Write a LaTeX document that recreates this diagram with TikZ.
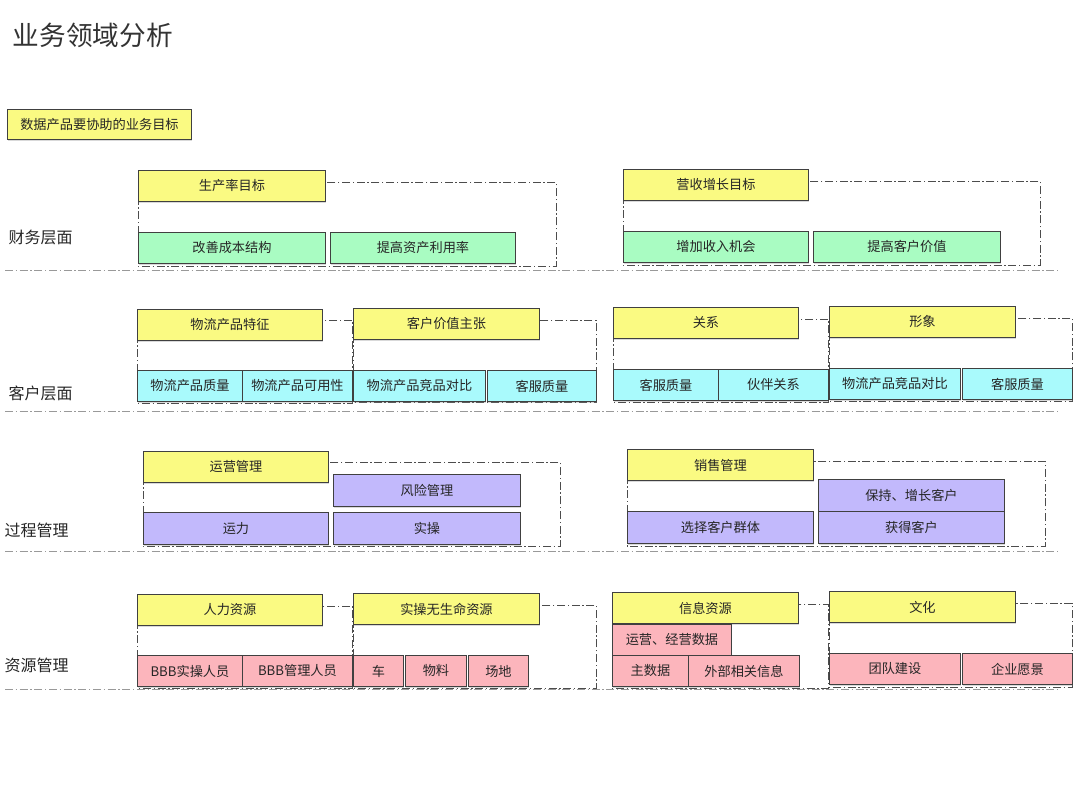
\documentclass[tikz,border=0pt]{standalone}
\usepackage{fontspec}
\setmainfont{Noto Sans CJK SC}
\usepackage{xcolor}
\usepackage{tikz}
\usetikzlibrary{shadows}
\definecolor{goalyellow}{HTML}{FAFA82}
\definecolor{fingreen}{HTML}{A9FCC2}
\definecolor{custcyan}{HTML}{A9FAFC}
\definecolor{proclilac}{HTML}{C2B9FC}
\definecolor{respink}{HTML}{FCB5BC}
\tikzset{box/.style={draw=black!75, line width=0.7pt, anchor=north west,
           minimum height=31*0.75pt, inner sep=0pt, text=black!85,
           font=\fontsize{9.9pt}{12pt}\selectfont,
           drop shadow={shadow xshift=0.5pt, shadow yshift=-1.2pt, opacity=0.3}},
         goal/.style={box, fill=goalyellow},
         fin/.style={box, fill=fingreen},
         cust/.style={box, fill=custcyan},
         proc/.style={box, fill=proclilac, minimum height=32*0.75pt},
         res/.style={box, fill=respink},
         frame/.style={draw=black!70, line width=0.7pt,
           dash pattern=on 6pt off 2pt on 1pt off 2pt},
         divider/.style={draw=black!40, line width=0.7pt,
           dash pattern=on 6pt off 2pt on 1pt off 2pt},
         layer/.style={anchor=west, text=black!85, font=\fontsize{12pt}{14pt}\selectfont}}

\begin{document}
\begin{tikzpicture}[x=0.75pt,y=-0.75pt]
\useasboundingbox (0,0) rectangle (1080,810);
\node[anchor=west, text=black!80, font=\fontsize{20pt}{24pt}\selectfont] (title) at (8,35) {业务领域分析};
\node[goal, minimum width=184*0.75pt, minimum height=30*0.75pt] (legend) at (7,109) {数据产品要协助的业务目标};
% layers
\foreach \x/\y/\ytext in {4/237/财务层面,4/393/客户层面,0/530/过程管理,0/665/资源管理}
  \node[layer] at (\x,\y) {\ytext};
\foreach \y in {270,411,551,689}
  \draw[divider] (5,\y)--(1058,\y);
% dash-dot groups
\foreach \xa/\ya/\xb/\yb in {138/182/556/266,623/181/1040/265,
    137/320/352/403,353/320/596/402,613/319/828/402,829/318/1072/401,
    143/462/560/546,627/461/1045/546,
    137/606/352/688,353/605/596/688,612/604/828/688,829/603/1072/687}
  \draw[frame] (\xa,\ya) rectangle (\xb,\yb);
% goals
\foreach \n/\x/\y/\w/\t in {g11/138/170/187/生产率目标,g12/623/169/185/营收增长目标,
    g21/137/309/185/物流产品特征,g22/353/308/186/客户价值主张,g23/613/307/185/关系,g24/829/306/186/形象,
    g31/143/451/185/运营管理,g32/627/449/186/销售管理,
    g41/137/594/185/人力资源,g42/353/593/186/实操无生命资源,g43/612/592/186/信息资源,g44/829/591/186/文化}
  \node[goal, minimum width=\w*0.75pt] (\n) at (\x,\y) {\t};
% financial
\foreach \n/\x/\y/\w/\t in {f11/138/232/187/改善成本结构,f12/330/232/185/提高资产利用率,
    f13/623/231/185/增加收入机会,f14/813/231/187/提高客户价值}
  \node[fin, minimum width=\w*0.75pt] (\n) at (\x,\y) {\t};
% customer
\foreach \n/\x/\y/\w/\t in {c21/137/370/105/物流产品质量,c22/242/370/110/物流产品可用性,
    c23/353/370/132/物流产品竞品对比,c24/487/370/109/客服质量,
    c25/613/369/105/客服质量,c26/718/369/110/伙伴关系,
    c27/829/368/131/物流产品竞品对比,c28/962/368/110/客服质量}
  \node[cust, minimum width=\w*0.75pt] (\n) at (\x,\y) {\t};
% process
\foreach \n/\x/\y/\w/\t in {p31/143/512/185/运力,p32/333/474/187/风险管理,p33/333/512/187/实操,
    p34/627/511/186/选择客户群体,p35/818/479/186/保持、增长客户,p36/818/511/186/获得客户}
  \node[proc, minimum width=\w*0.75pt] (\n) at (\x,\y) {\t};
% resources
\foreach \n/\x/\y/\w/\t in {r41/137/655/105/BBB实操人员,r42/242/655/110/BBB管理人员,
    r43/353/655/50/车,r44/405/655/61/物料,r45/468/655/60/场地,
    r46/612/624/119/运营、经营数据,r47/612/655/76/主数据,r48/688/655/111/外部相关信息,
    r49/829/653/131/团队建设,r410/962/653/110/企业愿景}
  \node[res, minimum width=\w*0.75pt] (\n) at (\x,\y) {\t};
\end{tikzpicture}
\end{document}
